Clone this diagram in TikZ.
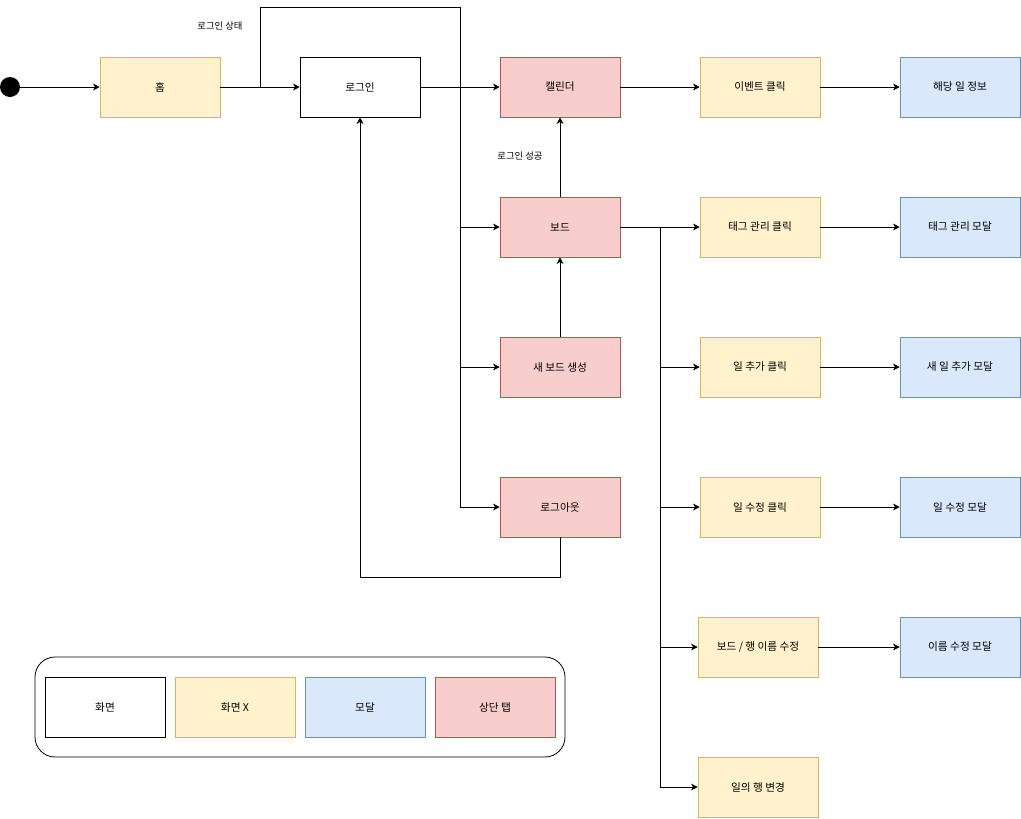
\documentclass[tikz,border=0pt]{standalone}
\usepackage{fontspec}
\setmainfont{Noto Sans CJK KR}
\usepackage{xcolor}
\usetikzlibrary{arrows.meta,positioning}

\definecolor{yfill}{HTML}{FFF2CC}
\definecolor{ydraw}{HTML}{D6B656}
\definecolor{rfill}{HTML}{F8CECC}
\definecolor{rdraw}{HTML}{B85450}
\definecolor{bfill}{HTML}{DAE8FC}
\definecolor{bdraw}{HTML}{6C8EBF}

\tikzset{
    box/.style = {draw, minimum width=90pt, minimum height=45pt, inner sep=1pt, font=\fontsize{8}{10}\selectfont},
    screen/.style = {box, fill=white, draw=black},
    noscreen/.style = {box, fill=yfill, draw=ydraw},
    modal/.style = {box, fill=bfill, draw=bdraw},
    tab/.style = {box, fill=rfill, draw=rdraw},
    link/.style = {-{Stealth[length=5pt,width=5pt,inset=1.5pt]}, line width=0.6pt},
    tag/.style = {font=\fontsize{7}{9}\selectfont}
}

\begin{document}
\begin{tikzpicture}[x=0.75pt, y=-0.75pt]
\useasboundingbox (0,0) rectangle (1021,818);

    % main screens
    \node[circle, fill=black, minimum size=15pt, inner sep=0pt] (start) at (10,87) {};
    \node[noscreen] (home) at (160,87) {홈};
    \node[screen] (login) at (360,87) {로그인};
    \node[tab] (calendar) at (560,87) {캘린더};
    \node[tab] (board) at (560,227) {보드};
    \node[tab] (newboard) at (560,367) {새 보드 생성};
    \node[tab] (logout) at (560,507) {로그아웃};

    % actions
    \node[noscreen] (eventclick) at (760,87) {이벤트 클릭};
    \node[noscreen] (tagclick) at (760,227) {태그 관리 클릭};
    \node[noscreen] (addclick) at (760,367) {일 추가 클릭};
    \node[noscreen] (editclick) at (760,507) {일 수정 클릭};
    \node[noscreen] (rename) at (758,647) {보드 / 행 이름 수정};
    \node[noscreen] (moverow) at (758,787) {일의 행 변경};

    % modals
    \node[modal] (dayinfo) at (960,87) {해당 일 정보};
    \node[modal] (tagmodal) at (960,227) {태그 관리 모달};
    \node[modal] (addmodal) at (960,367) {새 일 추가 모달};
    \node[modal] (editmodal) at (960,507) {일 수정 모달};
    \node[modal] (renamemodal) at (960,647) {이름 수정 모달};

    \coordinate (split) at (260,87);
    \coordinate (fork) at (660,227);

    \draw[link] (start) -- (home);
    \draw[link] (home) -- (login);
    \draw[link] (login) -- (calendar);
    \draw[link] (split) |- (460,7) -- (460,507) -- (logout);
    \draw[link] (460,227) -- (board);
    \draw[link] (460,367) -- (newboard);
    \draw[link] (board) -- (calendar);
    \draw[link] (newboard) -- (board);
    \draw[link] (logout) |- (360,577) -- (login);
    \node[tag] (statelabel) at (220,26) {로그인 상태};
    \node[tag] (oklabel) at (520,156) {로그인 성공};

    \draw[link] (calendar) -- (eventclick);
    \draw[link] (eventclick) -- (dayinfo);
    \draw[line width=0.6pt] (board) -- (fork) -- (660,787);
    \draw[link] (fork) -- (tagclick);
    \draw[link] (660,367) -- (addclick);
    \draw[link] (660,507) -- (editclick);
    \draw[link] (660,647) -- (rename);
    \draw[link] (660,787) -- (moverow);
    \draw[link] (tagclick) -- (tagmodal);
    \draw[link] (addclick) -- (addmodal);
    \draw[link] (editclick) -- (editmodal);
    \draw[link] (rename) -- (renamemodal);

    % legend
    \draw[rounded corners=15pt, line width=0.6pt] (35,657) rectangle (565,757);
    \node[screen] (legscreen) at (105,707) {화면};
    \node[noscreen] (legnoscreen) at (235,707) {화면 X};
    \node[modal] (legmodal) at (365,707) {모달};
    \node[tab] (legtab) at (495,707) {상단 탭};
\end{tikzpicture}
\end{document}
